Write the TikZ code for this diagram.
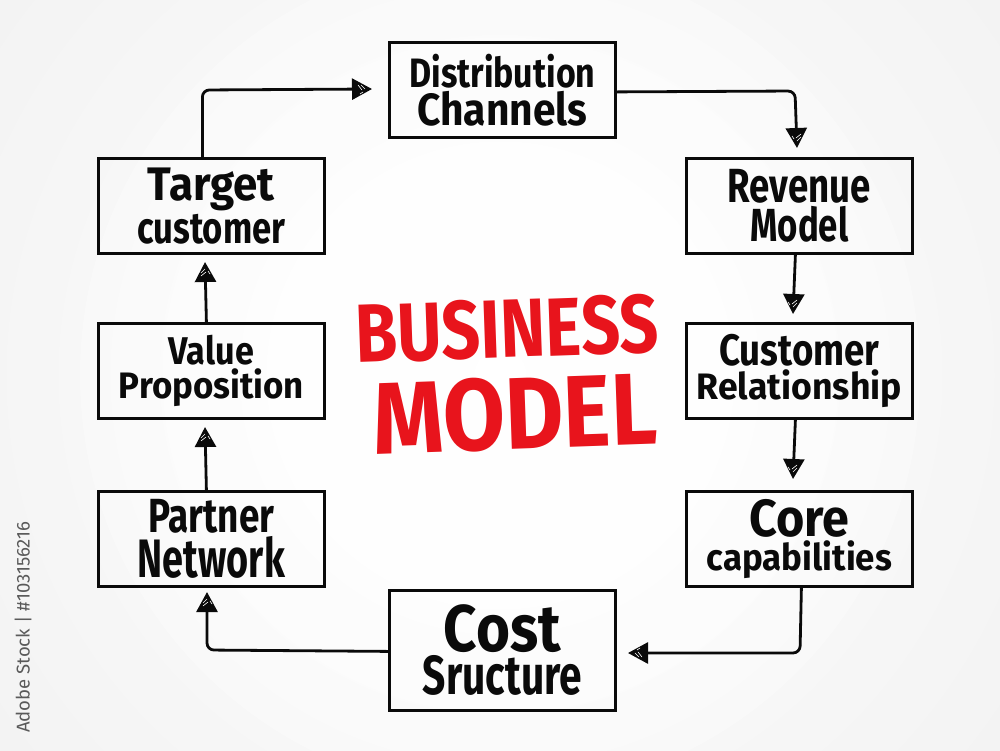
\documentclass[tikz,border=0pt]{standalone}
\usepackage{fontspec}
\usepackage{graphicx}
\setmainfont{Fira Sans}
\usetikzlibrary{arrows.meta,shadings}
\definecolor{ink}{HTML}{0A0A0A}
\definecolor{redink}{HTML}{E8141C}
\definecolor{stamp}{HTML}{5A5A5A}
\definecolor{papergray}{HTML}{E6E6E6}
\newcommand{\fit}[3]{\resizebox*{#1pt}{#2pt}{\bfseries #3}}
\newcommand{\twol}[6]{\vbox{\offinterlineskip
  \hbox to 220pt{\hss\fit{#1}{#2}{#3}\hss}\kern3pt
  \hbox to 220pt{\hss\fit{#4}{#5}{#6}\hss}}}
\tikzset{
  x=1pt,y=-1pt,
  boxnode/.style={draw=ink,line width=2.8pt,minimum width=226pt,minimum height=95pt,inner sep=0pt,text=ink,anchor=north west},
  link/.style={draw=ink,line width=2.8pt,rounded corners=7pt,-{Triangle[length=20pt,width=21pt,fill=ink]}},
  scratch/.style={draw=white,line width=.6pt,line cap=round},
  hatched/.pic={
    \draw[scratch] (-14,-4) -- (-10,1);
    \draw[scratch] (-11,-4) -- (-7,0);
    \draw[scratch] (-12,5) -- (-9,3);
  }
}
\begin{document}
\begin{tikzpicture}
\useasboundingbox (0,0) rectangle (1000,750);
\begin{scope}
  \clip (0,0) rectangle (1000,750);
  \fill[papergray] (0,0) rectangle (1000,750);
  \shade[inner color=white,outer color=papergray] (500,375) circle (1300);
  \fill[white,opacity=.35] (500,375) circle (420);
  \fill[white,opacity=.35] (500,375) circle (340);
  \fill[white,opacity=.5] (500,375) circle (260);
\end{scope}

\node[boxnode] (dist) at (388,41) {\twol{186}{34}{Distribution}{170}{35}{Channels}};
\node[boxnode] (rev) at (685,157) {\twol{143}{34}{Revenue}{98}{36}{Model}};
\node[boxnode] (cust) at (685,322) {\twol{160}{32}{Customer}{205}{38}{Relationship}};
\node[boxnode] (core) at (685,490) {\twol{100}{38}{Core}{185}{38}{capabilities}};
\node[boxnode,minimum height=120pt] (cost) at (388,589) {\twol{117}{48}{Cost}{159}{40}{Sructure}};
\node[boxnode] (part) at (97,490) {\twol{126}{34}{Partner}{147}{42}{Network}};
\node[boxnode] (val) at (97,322) {\twol{85}{30}{Value}{185}{38}{Proposition}};
\node[boxnode] (targ) at (97,157) {\twol{127}{43}{Target}{148}{30}{customer}};

\node[text=redink,inner sep=0pt] (title1) at (507,329) {\rotatebox{2}{\fit{303}{60}{BUSINESS}}};
\node[text=redink,inner sep=0pt] (title2) at (515,414) {\rotatebox{2}{\fit{284}{74}{MODEL}}};

\node[rotate=90,text=stamp,inner sep=0pt,font=\fontsize{18.5}{18.5}\selectfont,anchor=west] (stock) at (23,733) {Adobe Stock | \#103156216};

\coordinate (e1) at (372,89);
\coordinate (e2) at (797,148);
\coordinate (e3) at (793,314);
\coordinate (e4) at (793,479);
\coordinate (e5) at (628,653);
\coordinate (e6) at (207,592);
\coordinate (e7) at (205,427);
\coordinate (e8) at (205,262);

\draw[link] ([xshift=-9pt]targ.north) -- ++(0,-67) -- (e1);
\draw[link] ([yshift=-2pt]dist.east) -- (795,91) -- (e2);
\draw[link] ([xshift=-4pt]rev.south) -- (e3);
\draw[link] ([xshift=-4pt]cust.south) -- (e4);
\draw[link] ([xshift=2pt]core.south) -- (800,653) -- (e5);
\draw[link] ([yshift=-1pt]cost.west) -- (207,650) -- (e6);
\draw[link] ([xshift=-5pt]part.north) -- (e7);
\draw[link] ([xshift=-5pt]val.north) -- (e8);

\path (e1) pic {hatched};
\path (e2) pic[rotate=-90] {hatched};
\path (e3) pic[rotate=-90] {hatched};
\path (e4) pic[rotate=-90] {hatched};
\path (e5) pic[rotate=180] {hatched};
\path (e6) pic[rotate=90] {hatched};
\path (e7) pic[rotate=90] {hatched};
\path (e8) pic[rotate=90] {hatched};
\end{tikzpicture}
\end{document}
